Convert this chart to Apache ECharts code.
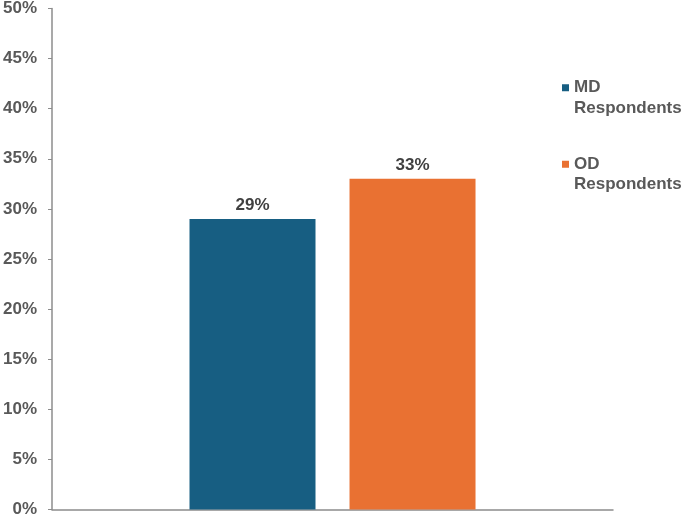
<!DOCTYPE html>
<html>
<head>
<meta charset="utf-8">
<script src="https://cdn.jsdelivr.net/npm/echarts@6/dist/echarts.min.js"></script>
<style>
html,body{margin:0;padding:0;background:#fff;}
#c{width:685px;height:518px;}
</style>
</head>
<body>
<div id="c"></div>
<script>
var categories = [''];
var seriesNames = ['MD\nRespondents', 'OD\nRespondents'];
var mdValues = [29];
var odValues = [33];
var colors = ['#175e82', '#e97132'];

var chart = echarts.init(document.getElementById('c'), null, {renderer: 'canvas'});
var labelStyle = {
  show: true, position: 'top', distance: 5,
  formatter: '{c}%', fontFamily: 'Liberation Sans, Arial, sans-serif',
  fontSize: 17, fontWeight: 'bold', color: '#404040'
};
chart.setOption({
  animation: false,
  grid: {left: 50, right: 72, top: 8, bottom: 6, containLabel: false},
  legend: {
    orient: 'vertical', left: 562, top: 57, padding: 0,
    itemWidth: 7, itemHeight: 7, itemGap: 15,
    icon: 'rect',
    formatter: function (name) { return '\n' + name; },
    textStyle: {
      fontFamily: 'Liberation Sans, Arial, sans-serif',
      fontSize: 17, fontWeight: 'bold', color: '#595959',
      lineHeight: 20.5
    },
    data: seriesNames
  },
  xAxis: {
    type: 'category', data: categories,
    axisLine: {lineStyle: {color: '#8c8c8c', width: 1.5}},
    axisTick: {show: false}, axisLabel: {show: false}
  },
  yAxis: {
    type: 'value', min: 0, max: 50, interval: 5,
    axisLine: {show: true, lineStyle: {color: '#8c8c8c', width: 1.5}},
    axisTick: {show: true, length: 4, lineStyle: {color: '#8c8c8c'}},
    splitLine: {show: false},
    axisLabel: {
      formatter: '{value}%', margin: 15,
      fontFamily: 'Liberation Sans, Arial, sans-serif',
      fontSize: 17, fontWeight: 'bold', color: '#595959'
    }
  },
  series: [
    {name: seriesNames[0], type: 'bar', data: mdValues, barWidth: 126, barGap: '27%',
     itemStyle: {color: colors[0]}, label: labelStyle},
    {name: seriesNames[1], type: 'bar', data: odValues, barWidth: 126, barGap: '27%',
     itemStyle: {color: colors[1]}, label: labelStyle}
  ]
});
</script>
</body>
</html>
